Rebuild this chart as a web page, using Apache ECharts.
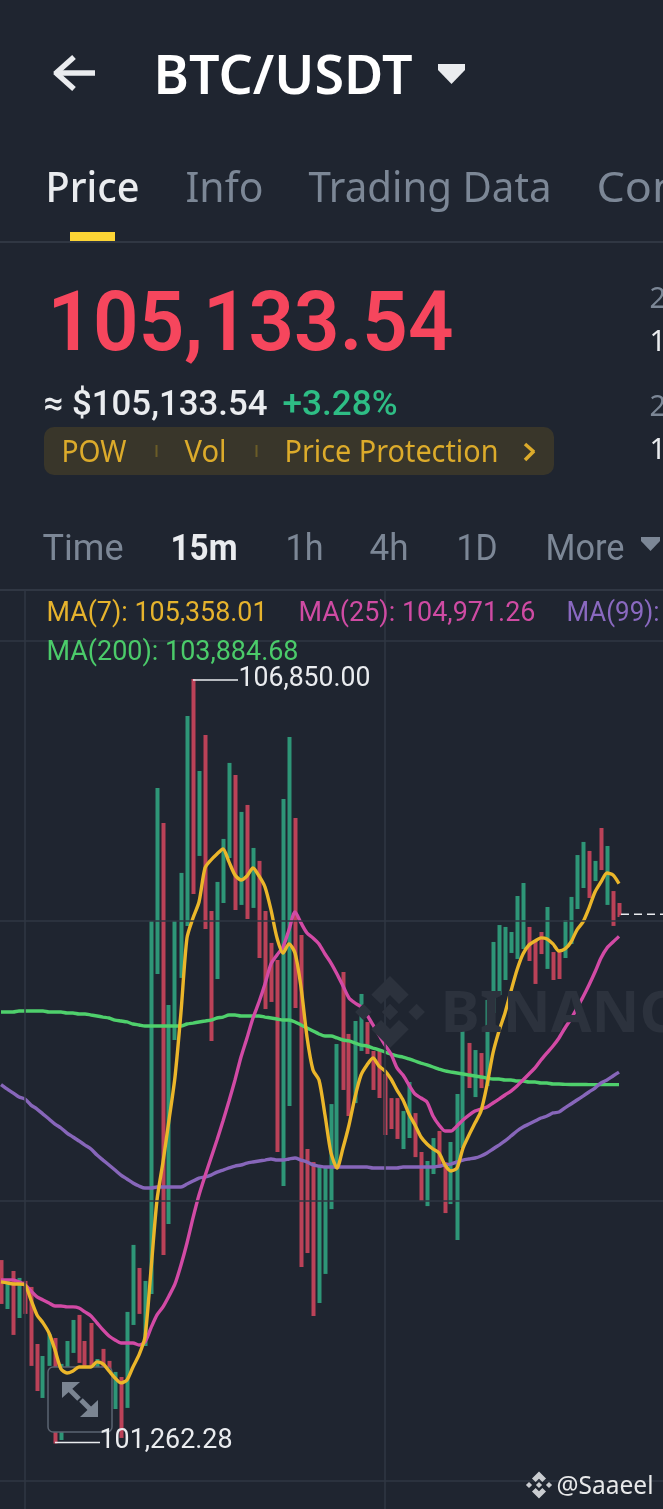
<!DOCTYPE html>
<html><head><meta charset="utf-8">
<style>html,body{margin:0;padding:0;background:#1f2530}#c{width:663px;height:1509px}</style>
<script src="https://cdn.jsdelivr.net/npm/echarts@6/dist/echarts.min.js"></script>
</head><body><div id="c"></div>
<script>
const highs=[102592,102439,102512,102461,102439,102395,101977,101889,102051,102021,101831,101999,102153,102190,101999,102131,101867,101941,101853,101772,101735,102212,102703,102534,102439,105077,106052,105795,104461,105077,105429,106578,106850,106176,106439,105150,105363,105678,106235,106147,105876,105927,105612,105517,105150,104916,104791,105971,106425,105832,104974,103406,103310,103274,103274,103735,104175,104703,104249,104344,104542,104336,104124,104124,103955,103779,103779,103684,103897,103669,103384,103318,103486,103538,103310,103457,103809,104300,104183,104131,104109,104498,104923,105047,105033,104996,105260,105355,105033,104930,104996,105179,104849,104857,105084,105253,105560,105656,105590,105517,105758,105626,105296,105209];
const lows=[102285,102248,102058,102182,102212,101831,101647,101596,101831,101262.28,101288,101779,101926,101853,101831,101809,101735,101794,101721,101515,101303,101523,102131,102212,101977,102358,104703,102643,102870,104219,104674,105055,105289,105568,105033,104212,104666,105223,105553,105172,105209,105106,105187,104820,104446,104498,103398,103149,103735,104454,102556,102658,102197,102292,102505,102980,103274,103853,103662,103757,104139,104117,103853,103794,103523,103567,103494,103420,103501,103361,103039,103002,103237,103281,102951,103017,102753,103428,103867,103801,103867,103882,104417,104549,104659,104857,104813,104886,104798,104630,104849,104740,104659,104666,104820,104923,105179,105333,105260,105384,105465,105209,105055,105113];
const direction="RGRGRRRGGRGGGRRRGRRGRGGRGGGRGGGGRGRRGGGRGRGRRRRGGRRRRGGGGRRGGRRRRRRGGRRGGRRGGGRGRGGGGGGGRRRGRRGGGGRGRGRRR";
const ma7=[102439,102432,102424,102424,102417,102307,102197,102139,102065,101941,101801,101772,101787,101816,101816,101816,101853,101838,101787,101735,101699,101721,101816,101904,102036,102527,103039,103318,103625,103941,104417,104960,105106,105223,105472,105531,105575,105612,105517,105421,105384,105414,105472,105414,105333,105165,104960,104849,104916,104849,104600,104234,103992,103919,103662,103384,103274,103420,103589,103794,103955,104029,104080,104021,103985,103926,103845,103772,103669,103589,103501,103450,103413,103384,103296,103252,103274,103420,103516,103603,103691,103882,104117,104278,104410,104571,104725,104842,104908,104937,104960,104952,104916,104864,104879,104930,105019,105077,105179,105296,105370,105436,105421,105358.01];
const ma25=[102454,102454,102454,102439,102417,102373,102329,102307,102285,102263,102263,102256,102256,102248,102219,102190,102139,102087,102043,102014,101992,101992,101992,101977,101999,102102,102197,102256,102336,102424,102563,102724,102908,103076,103215,103347,103479,103618,103765,103919,104087,104227,104373,104490,104622,104769,104835,104894,105019,105150,105070,104996,104960,104916,104842,104776,104696,104608,104520,104483,104454,104395,104322,104249,104175,104109,104007,103955,103882,103816,103787,103757,103655,103589,103545,103545,103582,103626,103662,103691,103706,103721,103750,103779,103809,103838,103875,103919,103963,104007,104065,104117,104168,104227,104300,104366,104446,104527,104615,104710,104813,104886,104930,104971.26];
const ma99=[103885,103853,103824,103794,103779,103735,103706,103669,103633,103596,103567,103530,103501,103472,103442,103413,103369,103332,103296,103259,103222,103193,103164,103142,103127,103127,103135,103135,103135,103135,103135,103156,103178,103200,103208,103222,103244,103259,103274,103288,103296,103310,103318,103325,103332,103340,103332,103332,103340,103347,103332,103318,103296,103288,103281,103281,103281,103281,103281,103281,103281,103281,103274,103274,103274,103274,103274,103281,103281,103281,103281,103281,103281,103288,103296,103303,103318,103332,103340,103347,103362,103384,103413,103442,103472,103508,103545,103574,103596,103618,103640,103655,103677,103684,103714,103743,103772,103801,103831,103860,103897,103919,103948,103977];
const ma200=[104417,104417,104417,104424,104424,104424,104424,104424,104417,104417,104417,104410,104410,104402,104402,104395,104388,104380,104373,104358,104351,104344,104329,104322,104314,104314,104314,104314,104314,104314,104314,104329,104336,104344,104351,104358,104373,104380,104395,104395,104388,104388,104388,104388,104380,104373,104366,104358,104358,104344,104322,104300,104278,104256,104241,104241,104227,104212,104205,104190,104175,104168,104153,104139,104124,104109,104095,104087,104073,104058,104043,104029,104014,103999,103985,103977,103970,103963,103955,103948,103941,103933,103926,103926,103919,103919,103911,103911,103904,103904,103897,103897,103889,103889,103887,103886,103886,103886,103885,103885,103885,103885,103885,103884.68];
const gridLevels=[107136,105084,103032,100980];
const verticalLineCandles=[4,64];
const priceMin=100775, priceMax=107509.5;
const lastPrice=105133.54, highLabel=106850, lowLabel=101262.28;
const highIndex=32, lowIndex=9;
const bandCount=111;
const categories=Array.from({length:bandCount},(_,i)=>'c'+i);

const BG='#1f2530',WHITE='#eaecef',GREY='#7c8796',GOLD='#dcab2b';
const candleData=highs.map((h,i)=>{
  const l=lows[i],up=direction[i]==='G';
  if(i===highs.length-1) return [h,lastPrice,l,h];
  return up?[l,h,l,h]:[h,l,l,h];
});

const chart=echarts.init(document.getElementById('c'),null,{renderer:'canvas',width:663,height:1509});
const gridLineStyle={color:'#303743',width:1.5,type:'solid'};
const lineSeries=(name,data,color)=>({name,type:'line',data,smooth:0.25,showSymbol:false,symbol:'none',z:4,clip:false,
  lineStyle:{color,width:3.4},itemStyle:{color},silent:true,animation:false});
chart.setOption({
  animation:false,backgroundColor:BG,
  grid:{left:-2,width:666,top:590,height:919,containLabel:false,show:false,outerBoundsMode:'none'},
  xAxis:{type:'category',data:categories,boundaryGap:true,show:false},
  yAxis:{type:'value',min:priceMin,max:priceMax,show:false,scale:true},
  series:[
    {name:'grid',type:'line',data:[],z:1,silent:true,symbol:'none',
      markLine:{silent:true,symbol:'none',label:{show:false},lineStyle:gridLineStyle,animation:false,
        data:[...gridLevels.map(v=>({yAxis:v})),...verticalLineCandles.map(i=>({xAxis:i}))]}},
    {name:'BTC/USDT',type:'candlestick',data:candleData,barWidth:2.5,z:2,silent:true,clip:false,
      itemStyle:{color:'#2fb985',color0:'#ee4a62',borderColor:'#2e9677',borderColor0:'#bb4258',borderWidth:2}},
    lineSeries('MA(200)',ma200,'#4fd06c'),
    lineSeries('MA(99)',ma99,'#8766ba'),
    lineSeries('MA(25)',ma25,'#d24aa5'),
    lineSeries('MA(7)',ma7,'#ebb62a')
  ]
});

const mc=document.createElement('canvas').getContext('2d');
function T(text,x,yc,size,color,weight,targetW,family,z){
  const fam=family||'"Noto Sans"';
  const font=`${weight||400} ${size}px ${fam}`;
  mc.font=font;
  const w=mc.measureText(text).width;
  return {type:'text',x:x-1.5,y:yc+size*0.07,scaleX:targetW?targetW/w:1,z:z||10,silent:true,
    style:{text,font,fill:color,align:'left',verticalAlign:'middle'}};
}
function poly(points,fill,z){return {type:'polygon',shape:{points},style:{fill},z:z||10,silent:true};}
function line(x1,y1,x2,y2,stroke,lineWidth,z,extra){return {type:'line',shape:{x1,y1,x2,y2},style:Object.assign({stroke,lineWidth,lineCap:'butt'},extra||{}),z:z||10,silent:true};}
function logo(cx,cy,r,fill,z){
  const P=a=>poly(a.map(p=>[cx+p[0]*r,cy+p[1]*r]),fill,z);
  const d=(x,y,h)=>[[x,y-h],[x+h,y],[x,y+h],[x-h,y]];
  return [P(d(0,0,.23)),P(d(-.74,0,.23)),P(d(.74,0,.23)),
    P([[0,-1],[.52,-.48],[.25,-.22],[0,-.47],[-.25,-.22],[-.52,-.48]]),
    P([[0,1],[.52,.48],[.25,.22],[0,.47],[-.25,.22],[-.52,.48]])];
}
const DIN='"Roboto"';
const hp=chart.convertToPixel({gridIndex:0},[highIndex,highLabel]);
const lp=chart.convertToPixel({gridIndex:0},[lowIndex,lowLabel]);
const cp=chart.convertToPixel({gridIndex:0},[highs.length-1,lastPrice]);
const g=[
  // header
  line(56,73,95,73,WHITE,5.5), line(74,57,55,74,WHITE,5.5), line(55,72,74,89,WHITE,5.5),
  T('BTC/USDT',155,74.5,54,'#ffffff',600,259),
  poly([[438,64],[465,64],[465,70],[451.5,84],[438,70]],WHITE),
  T('Price',47,187,41,WHITE,500,94),
  T('Info',187,187,41,GREY,400,78),
  T('Trading Data',310,187,41,GREY,400,243),
  T('Contract',598,187,41,GREY,400,180),
  {type:'rect',shape:{x:70,y:232,width:45,height:9},style:{fill:'#fcd535'},z:10,silent:true},
  line(0,242,663,242,'#303743',2),
  line(0,590,663,590,'#303743',2,1),
  // price block
  T('105,133.54',49,323,83,'#f6465d',600,406,DIN),
  T('≈ $105,133.54',45,404,35,WHITE,500,224,DIN),
  T('+3.28%',284,404,35,'#2ebd85',500,115,DIN),
  {type:'rect',shape:{x:44,y:427,width:510,height:48,r:10},style:{fill:'#39362a'},z:9,silent:true},
  T('POW',63,451,30,GOLD,400,65),
  line(156.5,445,156.5,457,'#6b5c27',2),
  T('Vol',186,451,30,GOLD,400,42),
  line(256.5,445,256.5,457,'#6b5c27',2),
  T('Price Protection',286,451,30,GOLD,400,214),
  line(525,444,534,452,GOLD,3.5), line(534,451,525,460,GOLD,3.5),
  T('2',651,298,29,GREY,400), T('1',651,341,29,WHITE,400),
  T('2',651,406,29,GREY,400), T('1',651,449,29,WHITE,400),
  // intervals
  T('Time',44,548,36,GREY,400,81,DIN),
  T('15m',172,548,36,WHITE,700,67,DIN),
  T('1h',287,548,36,GREY,400,38,DIN),
  T('4h',371,548,36,GREY,400,39,DIN),
  T('1D',458,548,36,GREY,400,41,DIN),
  T('More',547,548,36,GREY,400,79,DIN),
  poly([[641,537],[660,537],[660,541],[650.5,551],[641,541]],GREY),
  // MA legend
  T('MA(7): 105,358.01',48,612.5,28,'#e6b32d',400,221,DIN,6),
  T('MA(25): 104,971.26',300,612.5,28,'#cf4ba3',400,237,DIN,6),
  T('MA(99):',568,612.5,28,'#8a69c0',400,93,DIN,6),
  T('MA(200): 103,884.68',48,651.5,28,'#4bcb6a',400,252,DIN,6),
  // high / low labels
  line(hp[0],hp[1],238,hp[1],WHITE,1.6,6),
  T('106,850.00',240,hp[1]-3,28,WHITE,400,132,DIN,6),
  line(lp[0],lp[1],100,lp[1],WHITE,1.6,6),
  T('101,262.28',101,lp[1]-3,28,WHITE,400,133,DIN,6),
  // current price line
  line(cp[0]+2,cp[1],663,cp[1],WHITE,1.6,6,{lineDash:[8,5]}),
  // watermark
  ...logo(390,1012,36,'#2c323d',0),
  T('BINANCE',442,1012,57,'#2c323d',700,270,'"Noto Sans"',0),
  // expand button
  {type:'rect',shape:{x:48,y:1367,width:64,height:65,r:5},style:{fill:BG,stroke:'#5b6471',lineWidth:1.5},z:3,silent:true},
  poly([[62,1382],[80,1382],[62,1398]],'#7b8592',3),
  poly([[98,1417],[80,1417],[98,1400]],'#7b8592',3),
  line(68,1388,79,1399,'#7b8592',5,3), line(92,1411,81,1400,'#7b8592',5,3),
  // credit
  ...logo(539,1485,13.5,'#c9ccd0',6),
  T('@Saaeel',558,1485,26,'#e8e9ea',400,97,'"Noto Sans"',6)
];
chart.setOption({graphic:{elements:g}});
</script></body></html>
